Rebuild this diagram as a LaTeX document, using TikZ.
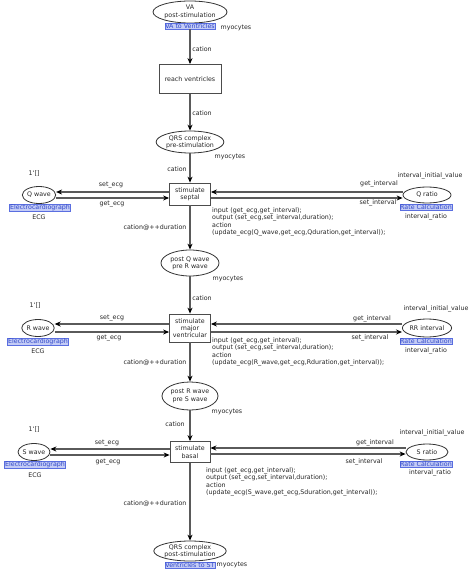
\documentclass[tikz,border=0pt]{standalone}
\usepackage{fontspec}
\setmainfont{DejaVu Sans}
\usetikzlibrary{shapes.geometric,arrows.meta}
\definecolor{lncol}{HTML}{5A5A5A}
\definecolor{tagfill}{HTML}{C4CCF6}
\definecolor{tagdraw}{HTML}{5A6EE0}
\definecolor{tagtext}{HTML}{3048C8}
\begin{document}
\begin{tikzpicture}[x=1pt,y=-1pt,
 every node/.style={font=\fontsize{6.3}{7.3}\selectfont, text=black!85},
 place/.style={ellipse,draw=black!80,line width=0.8pt,inner sep=0pt,align=center},
 trans/.style={rectangle,draw=black!70,line width=0.8pt,inner sep=0pt,align=center},
 arc/.style={draw=lncol,line width=1.1pt,-{Stealth[length=6pt,width=5pt,black]}},
 tag/.style={fill=tagfill,draw=tagdraw,text=tagtext,inner sep=0.5pt,line width=0.4pt},
 lbl/.style={inner sep=0pt},
 code/.style={align=left,inner sep=0pt,anchor=north west,font=\fontsize{6.3}{7.3}\selectfont}]
\useasboundingbox[fill=white] (0,0) rectangle (474,572);

% top
\node[place,minimum width=74,minimum height=22] (va) at (190,12) {VA\\post-stimulation};
\node[tag] (vatag) at (190,26) {VA to Ventricles};
\node[lbl] (vamy) at (236,28) {myocytes};
\node[trans,minimum width=62,minimum height=29] (rv) at (190,79) {reach ventricles};
\node[lbl] (c1) at (202,49) {cation};
\draw[arc] (vatag.south) -- (rv.north);
\node[place,minimum width=62,minimum height=22] (qrs1) at (190,142) {QRS complex\\pre-stimulation};
\node[lbl] (c2) at (202,113) {cation};
\node[lbl] (m1) at (230,157) {myocytes};
\draw[arc] (rv.south) -- (qrs1.north);

% Q section
\node[trans,minimum width=41,minimum height=22] (sep) at (190,194) {stimulate\\septal};
\node[lbl] (c3) at (177,169) {cation};
\draw[arc] (qrs1.south) -- (sep.north);
\node[place,minimum width=32,minimum height=17] (qw) at (39,195) {Q wave};
\node[lbl] (qwi) at (34,174) {1`[]};
\node[tag] (qwt) at (40,207.5) {Electrocardiograph};
\node[lbl] (qwe) at (39,217) {ECG};
\draw[arc] (sep.west |- 0,192) -- (qw.east |- 0,192);
\draw[arc] (qw.east |- 0,198) -- (sep.west |- 0,198);
\node[lbl] (qs) at (111,185) {set\_ecg};
\node[lbl] (qg) at (112,204) {get\_ecg};
\node[place,minimum width=48,minimum height=16] (qr) at (427,195) {Q ratio};
\node[lbl] (qri) at (430,176) {interval\_initial\_value};
\node[tag] (qrt) at (426,207) {Rate Calculation};
\node[lbl] (qrr) at (426,217) {interval\_ratio};
\draw[arc] (qr.west |- 0,192) -- (sep.east |- 0,192);
\draw[arc] (sep.east |- 0,198) -- (qr.west |- 0,198);
\node[lbl] (qgi) at (379,184) {get\_interval};
\node[lbl] (qsi) at (378,203) {set\_interval};
\node[code] (qcode) at (212,207.5) {input (get\_ecg,get\_interval);\\output (set\_ecg,set\_interval,duration);\\action\\(update\_ecg(Q\_wave,get\_ecg,Qduration,get\_interval));};
\node[lbl] (qd) at (155,228) {cation@++duration};
\node[place,minimum width=58,minimum height=26] (pq) at (190,263) {post Q wave\\pre R wave};
\draw[arc] (sep.south) -- (pq.north);
\node[lbl] (m2) at (228,279) {myocytes};
\node[lbl] (c4) at (202,298) {cation};

% R section
\node[trans,minimum width=41,minimum height=28] (maj) at (190,328) {stimulate\\major\\ventricular};
\draw[arc] (pq.south) -- (maj.north);
\node[place,minimum width=32,minimum height=17] (rw) at (38,328) {R wave};
\node[lbl] (rwi) at (35,306) {1`[]};
\node[tag] (rwt) at (38,341.5) {Electrocardiograph};
\node[lbl] (rwe) at (38,351) {ECG};
\draw[arc] (maj.west |- 0,324) -- (rw.east |- 0,324);
\draw[arc] (rw.east |- 0,332) -- (maj.west |- 0,332);
\node[lbl] (rs) at (112,318) {set\_ecg};
\node[lbl] (rg) at (109,338) {get\_ecg};
\node[place,minimum width=48,minimum height=18] (rr) at (427,328) {RR interval};
\node[lbl] (rri) at (436,309) {interval\_initial\_value};
\node[tag] (rrt) at (426,341.5) {Rate Calculation};
\node[lbl] (rrr) at (426,351) {interval\_ratio};
\draw[arc] (rr.west |- 0,324) -- (maj.east |- 0,324);
\draw[arc] (maj.east |- 0,332) -- (rr.west |- 0,332);
\node[lbl] (rgi) at (372,319) {get\_interval};
\node[lbl] (rsi) at (370,338) {set\_interval};
\node[code] (rcode) at (212,337.5) {input (get\_ecg,get\_interval);\\output (set\_ecg,set\_interval,duration);\\action\\(update\_ecg(R\_wave,get\_ecg,Rduration,get\_interval));};
\node[lbl] (rd) at (155,363) {cation@++duration};
\node[place,minimum width=56,minimum height=28] (pr) at (190,396) {post R wave\\pre S wave};
\draw[arc] (maj.south) -- (pr.north);
\node[lbl] (m3) at (227,412) {myocytes};
\node[lbl] (c5) at (175,424) {cation};

% S section
\node[trans,minimum width=40,minimum height=21] (bas) at (190,452) {stimulate\\basal};
\draw[arc] (pr.south) -- (bas.north);
\node[place,minimum width=32,minimum height=17] (sw) at (34,452) {S wave};
\node[lbl] (swi) at (34,430) {1`[]};
\node[tag] (swt) at (35,464.5) {Electrocardiograph};
\node[lbl] (swe) at (35,475) {ECG};
\draw[arc] (bas.west |- 0,449) -- (sw.east |- 0,449);
\draw[arc] (sw.east |- 0,455) -- (bas.west |- 0,455);
\node[lbl] (ss) at (107,443) {set\_ecg};
\node[lbl] (sg) at (108,462) {get\_ecg};
\node[place,minimum width=42,minimum height=16] (sr) at (427,452) {S ratio};
\node[lbl] (sri) at (432,433) {interval\_initial\_value};
\node[tag] (srt) at (426,464.5) {Rate Calculation};
\node[lbl] (srr) at (430,473) {interval\_ratio};
\draw[arc] (sr.west |- 0,448) -- (bas.east |- 0,448);
\draw[arc] (bas.east |- 0,454) -- (sr.west |- 0,454);
\node[lbl] (sgi) at (375,443) {get\_interval};
\node[lbl] (ssi) at (364,462) {set\_interval};
\node[code] (scode) at (206,467.5) {input (get\_ecg,get\_interval);\\output (set\_ecg,set\_interval,duration);\\action\\(update\_ecg(S\_wave,get\_ecg,Sduration,get\_interval));};
\node[lbl] (sd) at (155,504) {cation@++duration};
\node[place,minimum width=68,minimum height=20] (qrs2) at (190,551) {QRS complex\\post-stimulation};
\draw[arc] (bas.south) -- (qrs2.north);
\node[tag] (qrs2t) at (190,565) {Ventricles to ST};
\node[lbl] (m4) at (232,565) {myocytes};
\end{tikzpicture}
\end{document}
